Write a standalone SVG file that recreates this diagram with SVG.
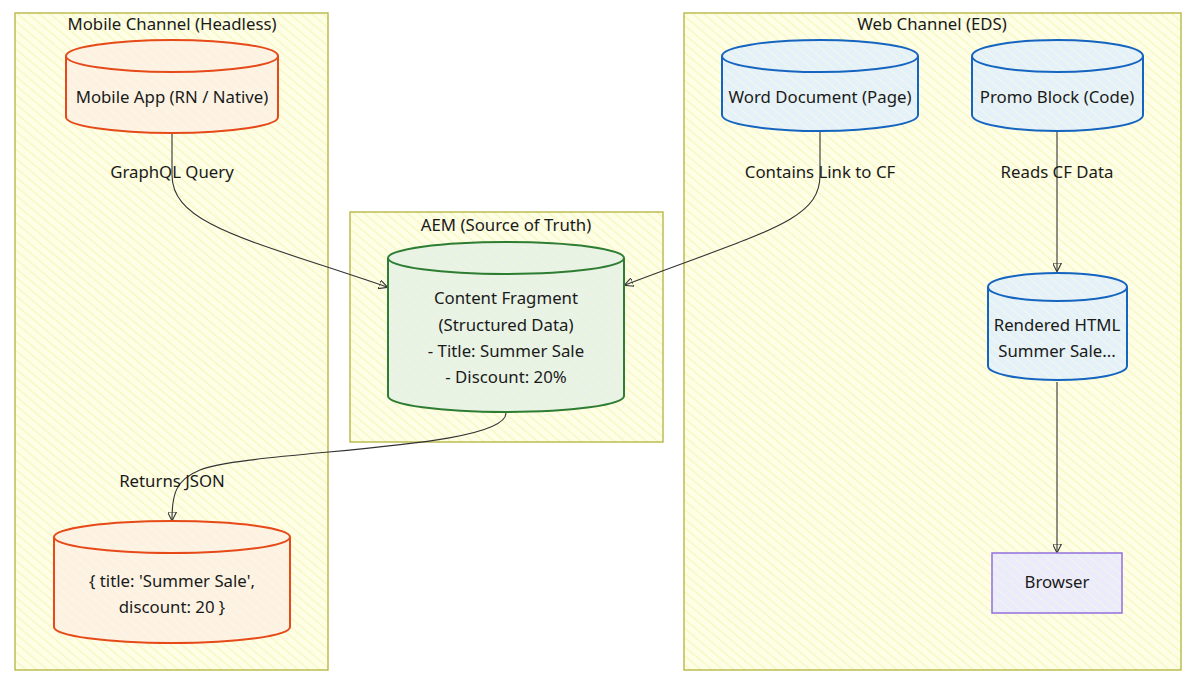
<svg xmlns="http://www.w3.org/2000/svg" width="1200" height="686" viewBox="0 0 1200 686">
<defs>
<pattern id="hY" width="7" height="7" patternUnits="userSpaceOnUse" patternTransform="rotate(-50)">
<rect width="7" height="7" fill="#fefee6"/>
<line x1="0" y1="0" x2="0" y2="7" stroke="#f6f6bf" stroke-width="2.5"/>
</pattern>
<pattern id="hO" width="7" height="7" patternUnits="userSpaceOnUse" patternTransform="rotate(-50)">
<rect width="7" height="7" fill="#fdf2e2"/>
<line x1="0" y1="0" x2="0" y2="7" stroke="#fbf7e9" stroke-width="2"/>
</pattern>
<pattern id="hB" width="7" height="7" patternUnits="userSpaceOnUse" patternTransform="rotate(-50)">
<rect width="7" height="7" fill="#e4f1f8"/>
<line x1="0" y1="0" x2="0" y2="7" stroke="#f3f8ea" stroke-width="2"/>
</pattern>
<pattern id="hG" width="7" height="7" patternUnits="userSpaceOnUse" patternTransform="rotate(-50)">
<rect width="7" height="7" fill="#e8f3e6"/>
<line x1="0" y1="0" x2="0" y2="7" stroke="#eef5de" stroke-width="2"/>
</pattern>
<pattern id="hP" width="7" height="7" patternUnits="userSpaceOnUse" patternTransform="rotate(-50)">
<rect width="7" height="7" fill="#ebebfb"/>
<line x1="0" y1="0" x2="0" y2="7" stroke="#f4f4ea" stroke-width="2"/>
</pattern>
<marker id="arr" viewBox="0 0 10 10" refX="9" refY="5" markerWidth="9" markerHeight="9" orient="auto-start-reverse" markerUnits="userSpaceOnUse">
<path d="M0,0 L10,5 L0,10 z" fill="none" stroke="#333" stroke-width="1.2"/>
</marker>
</defs>
<style>
text{font-family:"Noto Sans","DejaVu Sans",sans-serif;font-size:16.8px;fill:#1a1a1a;text-anchor:middle}
.cl{stroke:#b3b33a;stroke-width:1.3;fill:url(#hY)}
.or{stroke:#e64a19;stroke-width:2;fill:url(#hO)}
.bl{stroke:#1565c0;stroke-width:2;fill:url(#hB)}
.gr{stroke:#2e7d32;stroke-width:2;fill:url(#hG)}
.pu{stroke:#9370db;stroke-width:1.5;fill:url(#hP)}
.top{fill:none}
.edge{fill:none;stroke:#333;stroke-width:1.1;marker-end:url(#arr)}
</style>
<rect width="1200" height="686" fill="#fff"/>
<g id="mobile-channel">
<rect class="cl" x="15" y="13" width="313" height="657"/>
<text x="172" y="30">Mobile Channel (Headless)</text>
</g>
<g id="web-channel">
<rect class="cl" x="684" y="13" width="497" height="657"/>
<text x="932" y="30">Web Channel (EDS)</text>
</g>
<g id="aem">
<rect class="cl" x="350" y="212" width="313" height="230"/>
<text x="506" y="231">AEM (Source of Truth)</text>
</g>
<g id="edges">
<path class="edge" d="M172,133 L172,175 C172,225 250,240 387,287"/>
<path class="edge" d="M820,131 L820,175 C820,220 770,230 625,285"/>
<path class="edge" d="M1057,131 L1057,271"/>
<path class="edge" d="M1057,382 L1057,552"/>
<path class="edge" d="M506,413 C506,450 250,450 200,470 C175,480 172,495 172,520"/>
<text x="172" y="178">GraphQL Query</text>
<text x="820" y="178">Contains Link to CF</text>
<text x="1057" y="178">Reads CF Data</text>
<text x="172" y="487">Returns JSON</text>
</g>
<g id="mobile-app">
<path class="or" d="M66,56 A106,16 0 0 1 278,56 L278,117 A106,16 0 0 1 66,117 Z"/>
<path class="or top" d="M66,56 A106,16 0 0 0 278,56"/>
<text x="172" y="103">Mobile App (RN / Native)</text>
</g>
<g id="json">
<path class="or" d="M54,537 A118,16 0 0 1 290,537 L290,627 A118,16 0 0 1 54,627 Z"/>
<path class="or top" d="M54,537 A118,16 0 0 0 290,537"/>
<text x="172" y="587">{ title: 'Summer Sale',</text>
<text x="172" y="613">discount: 20 }</text>
</g>
<g id="content-fragment">
<path class="gr" d="M388,258 A118,16 0 0 1 624,258 L624,396 A118,16 0 0 1 388,396 Z"/>
<path class="gr top" d="M388,258 A118,16 0 0 0 624,258"/>
<text x="506" y="304">Content Fragment</text>
<text x="506" y="331">(Structured Data)</text>
<text x="506" y="357">- Title: Summer Sale</text>
<text x="506" y="383">- Discount: 20%</text>
</g>
<g id="word-doc">
<path class="bl" d="M722,56 A98,16 0 0 1 918,56 L918,115 A98,16 0 0 1 722,115 Z"/>
<path class="bl top" d="M722,56 A98,16 0 0 0 918,56"/>
<text x="820" y="103">Word Document (Page)</text>
</g>
<g id="promo-block">
<path class="bl" d="M972,56 A85.5,16 0 0 1 1143,56 L1143,115 A85.5,16 0 0 1 972,115 Z"/>
<path class="bl top" d="M972,56 A85.5,16 0 0 0 1143,56"/>
<text x="1057" y="103">Promo Block (Code)</text>
</g>
<g id="rendered-html">
<path class="bl" d="M988,287 A69.5,14 0 0 1 1127,287 L1127,366 A69.5,14 0 0 1 988,366 Z"/>
<path class="bl top" d="M988,287 A69.5,14 0 0 0 1127,287"/>
<text x="1057" y="331">Rendered HTML</text>
<text x="1057" y="357">Summer Sale...</text>
</g>
<g id="browser">
<rect class="pu" x="992" y="553" width="130" height="60"/>
<text x="1057" y="588">Browser</text>
</g>
</svg>
